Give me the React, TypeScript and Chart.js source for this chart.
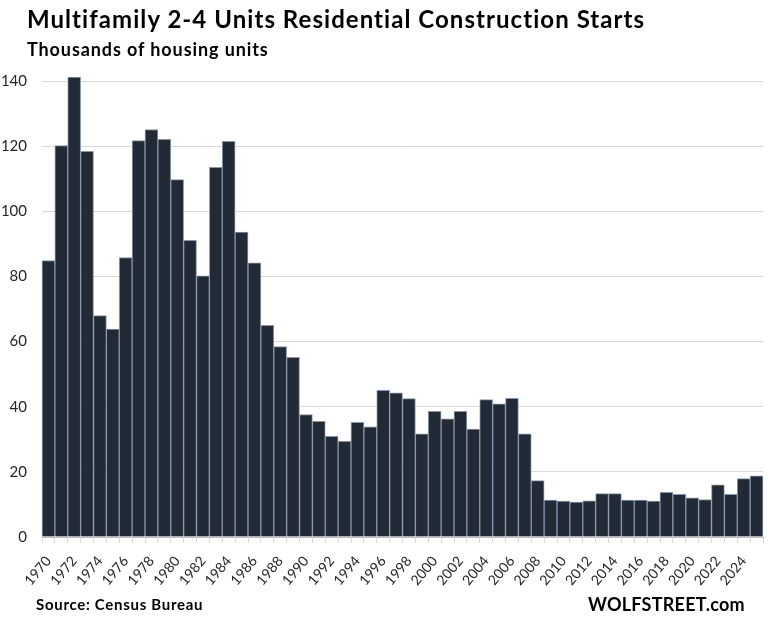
import React, { useEffect, useRef } from "react";
import { Chart, registerables } from "chart.js";

Chart.register(...registerables);

// Multifamily 2-4 unit starts, thousands of units per year
const years: string[] = [
  "1970", "1971", "1972", "1973", "1974", "1975", "1976", "1977", "1978", "1979",
  "1980", "1981", "1982", "1983", "1984", "1985", "1986", "1987", "1988", "1989",
  "1990", "1991", "1992", "1993", "1994", "1995", "1996", "1997", "1998", "1999",
  "2000", "2001", "2002", "2003", "2004", "2005", "2006", "2007", "2008", "2009",
  "2010", "2011", "2012", "2013", "2014", "2015", "2016", "2017", "2018", "2019",
  "2020", "2021", "2022", "2023", "2024", "2025",
];

const starts: number[] = [
  84.9, 120.2, 141.2, 118.4, 68.0, 63.8, 85.8, 121.7, 125.1, 122.1,
  109.7, 91.1, 80.2, 113.5, 121.5, 93.6, 84.2, 65.0, 58.5, 55.2,
  37.6, 35.5, 30.9, 29.4, 35.2, 33.8, 45.0, 44.3, 42.5, 31.7,
  38.6, 36.3, 38.6, 33.1, 42.2, 40.9, 42.6, 31.7, 17.3, 11.3,
  11.0, 10.7, 11.1, 13.3, 13.3, 11.3, 11.3, 11.0, 13.7, 13.1,
  12.0, 11.5, 16.0, 13.1, 17.9, 18.8,
];

const yTicks: number[] = [0, 20, 40, 60, 80, 100, 120, 140];

const FONT = "Lato, 'Open Sans', sans-serif";

export default function App() {
  const canvasRef = useRef<HTMLCanvasElement | null>(null);

  useEffect(() => {
    const canvas = canvasRef.current;
    if (!canvas) return;
    const chart = new Chart(canvas, {
      type: "bar",
      data: {
        labels: years,
        datasets: [
          {
            data: starts,
            backgroundColor: "#222a35",
            borderColor: "#8497b0",
            borderWidth: 1,
            barPercentage: 1,
            categoryPercentage: 1,
            clip: false,
          },
        ],
      },
      options: {
        animation: false,
        responsive: false,
        maintainAspectRatio: false,
        layout: { padding: { top: 81, right: 5, bottom: 25, left: 0 } },
        plugins: {
          legend: { display: false },
          tooltip: { enabled: false },
        },
        scales: {
          x: {
            type: "category",
            offset: true,
            grid: {
              offset: true,
              drawOnChartArea: false,
              drawTicks: true,
              tickLength: 6,
              color: "#d9d9d9",
            },
            border: { display: true, color: "#bfbfbf" },
            ticks: {
              autoSkip: false,
              minRotation: 50,
              maxRotation: 50,
              padding: 10,
              color: "#262626",
              font: { family: FONT, size: 14 },
              callback: (_v: any, i: number) => (i % 2 === 0 ? years[i] : ""),
            },
            afterFit: (scale: any) => {
              scale.height = 60;
              scale.paddingLeft = 0;
              scale.paddingRight = 0;
            },
          },
          y: {
            min: 0,
            max: 140,
            afterBuildTicks: (scale: any) => {
              scale.ticks = yTicks.map((v) => ({ value: v }));
            },
            grid: { color: "#d9d9d9", drawTicks: false, lineWidth: 1 },
            border: { display: false },
            ticks: {
              padding: 15,
              color: "#262626",
              font: { family: FONT, size: 15 },
            },
            afterFit: (scale: any) => {
              scale.width = 42;
            },
          },
        },
      },
    });
    return () => chart.destroy();
  }, []);

  return (
    <div
      style={{
        position: "fixed",
        left: 0,
        top: 0,
        width: 768,
        height: 622,
        background: "#ffffff",
        fontFamily: FONT,
        color: "#000000",
      }}
    >
      <canvas ref={canvasRef} width={768} height={622} style={{ position: "absolute", left: 0, top: 0 }} />
      <div style={{ position: "absolute", left: 27, top: 4, fontSize: 24, letterSpacing: 1.05, fontWeight: 700, whiteSpace: "nowrap" }}>
        Multifamily 2-4 Units Residential Construction Starts
      </div>
      <div style={{ position: "absolute", left: 27, top: 38, fontSize: 18, letterSpacing: 0.9, fontWeight: 700, whiteSpace: "nowrap" }}>
        Thousands of housing units
      </div>
      <div style={{ position: "absolute", left: 36, top: 595, fontSize: 15, letterSpacing: 0.7, fontWeight: 700, whiteSpace: "nowrap" }}>
        Source: Census Bureau
      </div>
      <div style={{ position: "absolute", left: 588, top: 593, fontSize: 18, letterSpacing: 0.25, fontWeight: 700, whiteSpace: "nowrap" }}>
        WOLFSTREET.com
      </div>
    </div>
  );
}
